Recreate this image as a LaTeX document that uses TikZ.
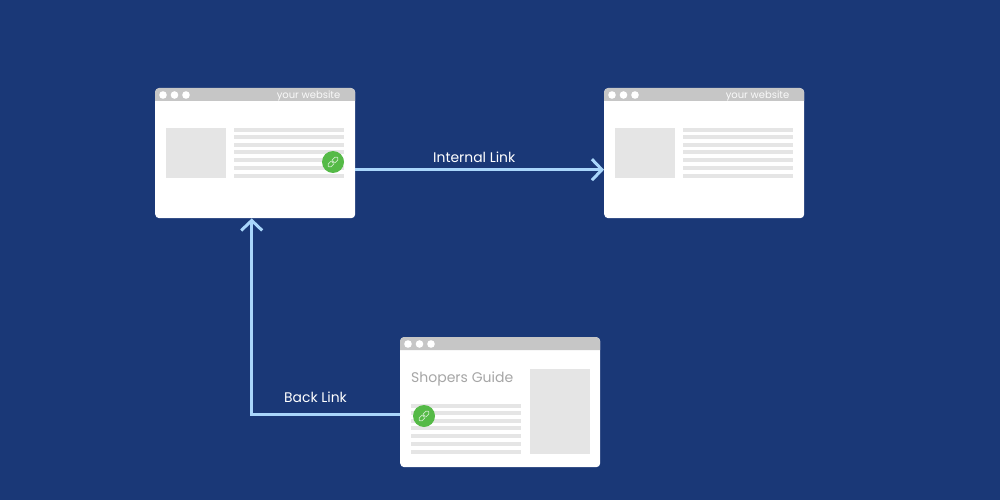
\documentclass[tikz,border=0pt]{standalone}
\usepackage{fontspec}
\setmainfont{Poppins}
\usetikzlibrary{arrows.meta}
\definecolor{bgblue}{HTML}{1A3877}
\definecolor{barGray}{HTML}{C6C6C6}
\definecolor{blockGray}{HTML}{E5E5E5}
\definecolor{linkGreen}{HTML}{55BA47}
\definecolor{arrowBlue}{HTML}{A9D6FB}
\tikzset{
  x=1pt,y=-1pt,
  windowbox/.style={draw=none,fill=white,rounded corners=4pt,minimum width=200pt,minimum height=130pt,inner sep=0pt,anchor=north west},
  titlebar/.style={fill=barGray},
  winbutton/.style={fill=white,circle,inner sep=0pt,minimum size=7.6pt},
  block/.style={fill=blockGray},
  linkbadge/.style={fill=linkGreen,circle,inner sep=0pt,minimum size=22pt},
  linkline/.style={draw=arrowBlue,line width=3pt,line join=miter},
  linktip/.style={-{Straight Barb[length=10pt,width=21pt,line width=3pt]}},
  linklabel/.style={text=white,font=\fontsize{13.9}{16}\selectfont,inner sep=0pt,anchor=base west},
  sitelabel/.style={text=white,opacity=.9,font=\fontsize{10}{12}\selectfont,inner sep=0pt,anchor=base east},
  guidelabel/.style={text=black!35,font=\fontsize{14}{17}\selectfont,inner sep=0pt,anchor=base west},
  clipicon/.style={draw=white!70!linkGreen,line width=.7pt,rounded corners=1.9pt}
}
\newcommand{\windowframe}[3]{% name, x, y
  \node[windowbox] (#1) at (#2,#3) {};
  \fill[titlebar] (#2,#3+13) [rounded corners=4pt] -- (#2,#3) -- (#2+200,#3) [sharp corners] -- (#2+200,#3+13) -- cycle;
  \node[winbutton] (#1b1) at (#2+8,#3+7) {};
  \node[winbutton] (#1b2) at (#2+19.5,#3+7) {};
  \node[winbutton] (#1b3) at (#2+31,#3+7) {};
}
\newcommand{\textrows}[2]{% x, y of first row
  \foreach \d in {0,7.3,15,22.2,30,38,46}{
    \fill[block] (#1,#2+\d) rectangle (#1+110,#2+\d+4);
  }
}
\newcommand{\linkicon}[1]{%
  \begin{scope}[shift={(#1)},rotate=45]
    \draw[clipicon] (-6.5,-2.1) rectangle (1,2.1);
    \draw[clipicon] (-1,-2.1) rectangle (6.5,2.1);
  \end{scope}
}
\begin{document}
\begin{tikzpicture}
\useasboundingbox (0,0) rectangle (1000,500);
\fill[bgblue] (0,0) rectangle (1000,500);

\windowframe{siteA}{155}{88}
\node[sitelabel] (siteAlabel) at (340.5,98.5) {your website};
\fill[block] (166,128) rectangle (226,178);
\textrows{234}{128}
\node[linkbadge] (badgeA) at (333,162) {};
\linkicon{badgeA}

\windowframe{siteB}{604}{88}
\node[sitelabel] (siteBlabel) at (789.5,98.5) {your website};
\fill[block] (615,128) rectangle (675,178);
\textrows{683}{128}

\windowframe{guide}{400}{337}
\node[guidelabel] (guidetitle) at (411,382) {Shopers Guide};
\fill[block] (530,369) rectangle (590,454);
\textrows{411}{404}
\node[linkbadge] (badgeC) at (424,416) {};
\linkicon{badgeC}

\draw[linkline,linktip] ([yshift=-16.5pt]siteA.east) -- ([yshift=-16.5pt]siteB.west);
\draw[linkline,linktip] ([yshift=-12.5pt]guide.west) -| ([xshift=-3.5pt]siteA.south);

\node[linklabel] (internal) at (433,162) {Internal Link};
\node[linklabel] (back) at (284,402) {Back Link};
\end{tikzpicture}
\end{document}
